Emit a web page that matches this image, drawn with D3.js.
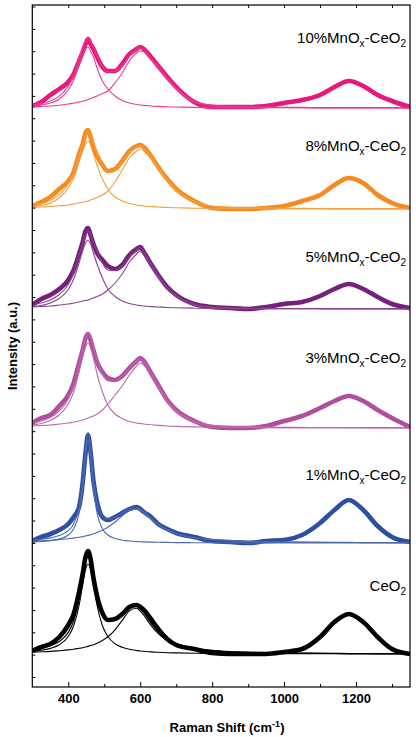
<!DOCTYPE html>
<html>
<head>
<meta charset="utf-8">
<script src="https://cdn.jsdelivr.net/npm/d3@7"></script>
<style>
  body { margin: 0; background: #fff; }
  svg text { font-family: Arial, "Liberation Sans", Helvetica, sans-serif; fill: #000; }
</style>
</head>
<body>
<div id="chart"></div>
<script>
// Raman shift grid (cm-1) that every series below is read on
const shifts = [300, 325, 350, 375, 400, 415, 430, 440, 448, 455, 462, 470, 480, 495, 510, 530, 550, 570, 590, 600,
  610, 630, 650, 675, 700, 750, 800, 850, 900, 950, 1000, 1050, 1100, 1140, 1180, 1220, 1260, 1300, 1350];

// measured spectra (intensity above each stacked baseline, a.u.)
const mn10Raw = [2, 6, 13, 19, 26, 34, 47, 56, 64, 69, 64, 59, 51, 41, 37, 37, 44, 54, 59, 61,
  59, 51, 42, 31, 21, 6, 1, 1, 1, 2, 5, 8, 13, 21, 27, 22, 13, 7, 1];
const mn8Raw = [3, 7, 12, 20, 28, 37, 55, 65, 76, 79, 72, 62, 53, 44, 38, 40, 48, 58, 63, 64,
  62, 53, 42, 30, 20, 8, 1, 0, 0, 1, 3, 8, 14, 24, 31, 26, 14, 6, 1];
const mn5Raw = [4, 10, 14, 20, 29, 39, 55, 67, 78, 81, 74, 65, 56, 49, 43, 40, 44, 54, 60, 62,
  57, 45, 34, 22, 14, 5, 2, 1, 0, 2, 5, 7, 13, 20, 25, 20, 12, 5, 1];
const mn3Raw = [5, 10, 13, 22, 33, 45, 65, 78, 90, 94, 88, 78, 66, 56, 50, 48, 52, 60, 67, 70,
  67, 55, 43, 28, 18, 7, 1, 0, 0, 2, 7, 12, 20, 27, 32, 27, 18, 10, 1];
const mn1Raw = [2, 6, 9, 13, 19, 26, 36, 60, 90, 108, 91, 62, 41, 26, 23, 26, 30, 34, 36, 34,
  31, 26, 19, 14, 10, 6, 2, 1, 0, 2, 3, 8, 20, 33, 43, 33, 17, 6, 1];
const ceRaw = [3, 7, 10, 17, 29, 40, 62, 80, 97, 103, 95, 76, 58, 41, 34, 35, 40, 47, 49, 47,
  44, 35, 25, 15, 9, 5, 1, 0, 0, 0, 2, 5, 17, 32, 40, 32, 17, 5, 0];

// fitted F2g band (~455 cm-1)
const mn10Peak1 = [2, 3, 5, 9, 18, 28, 43, 53, 59, 61, 57, 51, 40, 27, 19, 12, 7.5, 5, 3.5, 3,
  2.6, 2, 1.6, 1.2, 1, 0.6, 0.4, 0.3, 0.3, 0.2, 0.2, 0.2, 0.1, 0.1, 0.1, 0.1, 0.1, 0.1, 0.1];
const mn8Peak1 = [2.5, 3.5, 6, 11, 21, 31, 47, 58, 65, 68, 64, 55, 44, 30, 20, 12, 8, 5.5, 4, 3.5,
  3, 2.4, 2, 1.5, 1.2, 0.8, 0.5, 0.4, 0.3, 0.3, 0.2, 0.2, 0.2, 0.1, 0.1, 0.1, 0.1, 0.1, 0.1];
const mn5Peak1 = [2.5, 3.5, 6, 10.5, 19.5, 30, 46, 58, 66, 69, 65, 56, 45, 31, 20, 12.5, 8, 5.5, 4, 3.5,
  3, 2.4, 2, 1.5, 1.2, 0.8, 0.5, 0.4, 0.3, 0.3, 0.2, 0.2, 0.2, 0.1, 0.1, 0.1, 0.1, 0.1, 0.1];
const mn3Peak1 = [3, 4.5, 7.5, 13, 24, 36, 56, 71, 81, 85, 80, 70, 54, 36, 23, 14, 9.5, 6.5, 5, 4.5,
  4, 3.2, 2.6, 2, 1.6, 1.1, 0.8, 0.6, 0.5, 0.4, 0.3, 0.3, 0.2, 0.2, 0.2, 0.2, 0.1, 0.1, 0.1];
const mn1Peak1 = [1.1, 1.5, 2.3, 4, 8, 14.2, 29.9, 54.8, 86.5, 103, 86.5, 54.8, 29.9, 14.2, 8, 4.5, 2.8, 2, 1.4, 1.2,
  1.1, 0.9, 0.7, 0.6, 0.4, 0.3, 0.2, 0.2, 0.1, 0.1, 0.1, 0.1, 0.1, 0.1, 0.1, 0.1, 0.1, 0.1, 0.1];
const cePeak1 = [2.7, 3.7, 5.6, 9.2, 17.5, 28.2, 48.5, 68.8, 84.3, 90, 84.3, 68.8, 48.5, 28.2, 17.5, 10.3, 6.7, 4.7, 3.5, 3,
  2.7, 2.1, 1.7, 1.3, 1.1, 0.8, 0.6, 0.4, 0.4, 0.3, 0.3, 0.2, 0.2, 0.2, 0.1, 0.1, 0.1, 0.1, 0.1];

// fitted defect band (~590 cm-1)
const mn10Peak2 = [1.3, 1.6, 2, 2.8, 4, 5, 6, 6.8, 7.5, 8.5, 9.5, 10.5, 12, 14.5, 17, 25, 35, 47, 55, 57,
  56, 48, 40, 29, 19, 6, 2.5, 1.3, 0.8, 0.6, 0.5, 0.4, 0.3, 0.3, 0.2, 0.2, 0.2, 0.2, 0.1];
const mn8Peak2 = [1.5, 2, 2.5, 3.2, 4, 5, 6, 7, 7.5, 8, 9, 10, 11.5, 14, 18, 27, 39, 51, 58, 60,
  58, 50, 40, 28, 18, 7, 2.5, 1.3, 0.8, 0.6, 0.5, 0.4, 0.3, 0.3, 0.3, 0.2, 0.2, 0.2, 0.2];
const mn5Peak2 = [2, 2.5, 3, 4, 5, 6, 7, 8, 8.5, 9, 10, 11, 12.5, 15, 19, 26, 35, 47, 55, 58,
  54, 43, 32, 20.5, 12.5, 4, 1.5, 0.8, 0.5, 0.4, 0.3, 0.3, 0.2, 0.2, 0.2, 0.2, 0.2, 0.2, 0.2];
const mn3Peak2 = [2, 2.5, 3, 4, 5, 6, 7, 8, 9, 10, 11, 12, 14, 18, 24, 33, 42, 53, 62, 65,
  63, 52, 40, 26, 16, 6, 2, 1, 0.7, 0.5, 0.4, 0.3, 0.3, 0.3, 0.2, 0.2, 0.2, 0.2, 0.2];
const mn1Peak2 = [1.9, 2.3, 2.8, 3.4, 4.3, 4.9, 5.8, 6.4, 7, 7.6, 8.3, 9.2, 10.5, 12.8, 15.8, 21, 27.2, 32.5, 33.8, 32.5,
  30.2, 24, 18.3, 12.8, 9.2, 5.2, 3.3, 2.2, 1.6, 1.2, 0.9, 0.8, 0.6, 0.5, 0.5, 0.4, 0.4, 0.3, 0.3];
const cePeak2 = [1.8, 2.2, 2.6, 3.3, 4.1, 4.8, 5.7, 6.3, 7, 7.6, 8.4, 9.3, 10.7, 13.5, 17.2, 24.2, 33.7, 43.1, 45.7, 43.1,
  38.8, 28.7, 20.4, 13.5, 9.3, 5.1, 3.1, 2.1, 1.5, 1.1, 0.9, 0.7, 0.6, 0.5, 0.4, 0.4, 0.3, 0.3, 0.3];

// sample names, split into [text, subscript, text, subscript]
const sampleLabels = [
  ['10%MnO', 'x', '-CeO', '2'],
  ['8%MnO', 'x', '-CeO', '2'],
  ['5%MnO', 'x', '-CeO', '2'],
  ['3%MnO', 'x', '-CeO', '2'],
  ['1%MnO', 'x', '-CeO', '2'],
  ['CeO', '2'],
];
const stackOffsets = [579, 478, 378, 259, 144, 33];
const xMajorTicks = [400, 600, 800, 1000, 1200];
const xMinorTicks = [500, 700, 900, 1100, 1300];

const colors = ['#e8177c', '#f68a1f', '#74217a', '#b04e9e', '#2d4fa2', '#000000'];
const labelLift = [65, 58, 47, 65, 63, 63];

const raws = [mn10Raw, mn8Raw, mn5Raw, mn3Raw, mn1Raw, ceRaw];
const peaks1 = [mn10Peak1, mn8Peak1, mn5Peak1, mn3Peak1, mn1Peak1, cePeak1];
const peaks2 = [mn10Peak2, mn8Peak2, mn5Peak2, mn3Peak2, mn1Peak2, cePeak2];

const width = 416;
const height = 737;
const plot = { left: 32.3, right: 410, top: 5, bottom: 687 };

const x = d3.scaleLinear().domain([300, 1350]).range([plot.left, plot.right]);
const y = d3.scaleLinear().domain([0, 682]).range([plot.bottom, plot.top]);

const svg = d3
  .select('#chart')
  .append('svg')
  .attr('width', width)
  .attr('height', height);

svg
  .append('clipPath')
  .attr('id', 'clip')
  .append('rect')
  .attr('x', plot.left)
  .attr('y', plot.top)
  .attr('width', plot.right - plot.left)
  .attr('height', plot.bottom - plot.top);

const line = (offset) =>
  d3
    .line()
    .x((d) => x(d[0]))
    .y((d) => y(offset + d[1]))
    .curve(d3.curveMonotoneX);

const g = svg.append('g').attr('clip-path', 'url(#clip)');

raws.forEach((raw, i) => {
  const off = stackOffsets[i];
  const c = colors[i];
  const fitColor = d3.interpolateRgb(c, '#fff')(i === 5 ? 0 : 0.15);
  const rawPts = shifts.map((s, j) => [s, raw[j]]);
  const p1 = shifts.map((s, j) => [s, peaks1[i][j]]);
  const p2 = shifts.map((s, j) => [s, peaks2[i][j]]);
  const sum = shifts.map((s, j) => [s, peaks1[i][j] + peaks2[i][j]]);

  const sg = g.append('g').attr('class', 'series');

  // measured spectrum, drawn heavy to read like the noisy trace
  sg.append('path')
    .attr('d', line(off)(rawPts))
    .attr('fill', 'none')
    .attr('stroke', c)
    .attr('stroke-width', 4.6)
    .attr('stroke-linejoin', 'round');

  [sum, p1, p2].forEach((pts) => {
    sg.append('path')
      .attr('d', line(off)(pts))
      .attr('fill', 'none')
      .attr('stroke', fitColor)
      .attr('stroke-width', 1.1);
  });
});

// sample labels
sampleLabels.forEach((parts, i) => {
  const t = svg
    .append('text')
    .attr('x', 406)
    .attr('y', y(stackOffsets[i]) - labelLift[i])
    .attr('text-anchor', 'end')
    .attr('font-size', 15);
  parts.forEach((p, k) => {
    const sub = k % 2 === 1;
    t.append('tspan')
      .attr('font-size', sub ? 10 : 15)
      .attr('dy', sub ? 4 : k === 0 ? 0 : -4)
      .text(p);
  });
});

// frame
svg
  .append('rect')
  .attr('x', plot.left)
  .attr('y', plot.top)
  .attr('width', plot.right - plot.left)
  .attr('height', plot.bottom - plot.top)
  .attr('fill', 'none')
  .attr('stroke', '#000')
  .attr('stroke-width', 1.2);

// bottom axis: labelled majors, short minors, ticks pointing in
const xAxis = svg
  .append('g')
  .attr('transform', `translate(0,${plot.bottom})`)
  .call(
    d3.axisBottom(x)
      .tickValues(xMajorTicks)
      .tickFormat(d3.format('d'))
      .tickSizeInner(-5)
      .tickSizeOuter(0)
      .tickPadding(6.5)
  );
xAxis.select('.domain').remove();
xAxis
  .selectAll('text')
  .attr('font-size', 13)
  .attr('font-weight', 'bold')
  .attr('fill', '#000')
  .attr('font-family', 'Arial, "Liberation Sans", sans-serif');

svg
  .append('g')
  .attr('transform', `translate(0,${plot.bottom})`)
  .call(d3.axisBottom(x).tickValues(xMinorTicks).tickSizeInner(-3).tickSizeOuter(0).tickFormat(''))
  .call((a) => a.select('.domain').remove());

svg
  .append('g')
  .attr('transform', `translate(0,${plot.top})`)
  .call(
    d3.axisTop(x)
      .tickValues(d3.range(400, 1350, 100))
      .tickSizeInner(-3)
      .tickSizeOuter(0)
      .tickFormat('')
  )
  .call((a) => a.select('.domain').remove());

svg
  .append('g')
  .attr('transform', `translate(${plot.left},0)`)
  .call(d3.axisLeft(y).tickValues(d3.range(10, 682, 22.35)).tickSizeInner(-3).tickSizeOuter(0).tickFormat(''))
  .call((a) => a.select('.domain').remove());

// axis titles
const xt = svg
  .append('text')
  .attr('x', 227)
  .attr('y', 732)
  .attr('text-anchor', 'middle')
  .attr('font-size', 13)
  .attr('font-weight', 'bold');
xt.append('tspan').text('Raman Shift (cm');
xt.append('tspan').attr('font-size', 9).attr('dy', -5).text('-1');
xt.append('tspan').attr('dy', 5).text(')');

svg
  .append('text')
  .attr('transform', 'translate(16.5,346) rotate(-90)')
  .attr('text-anchor', 'middle')
  .attr('font-size', 13)
  .attr('font-weight', 'bold')
  .text('Intensity (a.u.)');
</script>
</body>
</html>
